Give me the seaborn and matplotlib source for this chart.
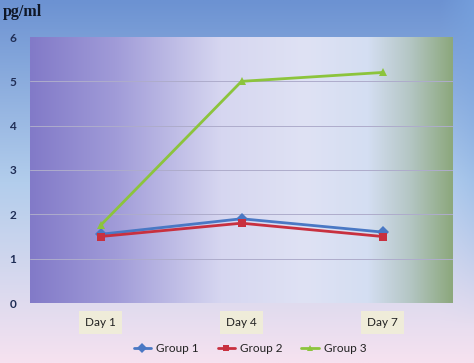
import numpy as np
import pandas as pd
import matplotlib
matplotlib.use("Agg")
import matplotlib.pyplot as plt
from matplotlib.colors import LinearSegmentedColormap
import seaborn as sns

# Data
days = ["Day 1", "Day 4", "Day 7"]
group1 = [1.55, 1.9, 1.6]
group2 = [1.5, 1.8, 1.5]
group3 = [1.75, 5.0, 5.2]
groups = ["Group 1", "Group 2", "Group 3"]
y_ticks = [0, 1, 2, 3, 4, 5, 6]

sns.set_style("white")
plt.rcParams['font.family'] = ['Lato', 'DejaVu Sans']

rows = []
for name, vals in zip(groups, [group1, group2, group3]):
    for d, v in zip(days, vals):
        rows.append({"day": d, "value": v, "group": name})
df = pd.DataFrame(rows)

fig = plt.figure(figsize=(4.74, 3.63), dpi=100)

# figure background: vertical blue -> pink gradient, bluer toward the right edge
bg = fig.add_axes([0, 0, 1, 1], zorder=-10)
h, w = 200, 200
yy, xx = np.mgrid[0:1:h * 1j, 0:1:w * 1j]
top = np.array([108, 146, 210]) / 255
mid = np.array([178, 205, 236]) / 255
bot = np.array([246, 226, 240]) / 255
t = yy[..., None]
img = np.where(t < 0.5, top + (mid - top) * (t / 0.5), mid + (bot - mid) * ((t - 0.5) / 0.5))
right_w = np.clip((xx - 0.93) / 0.07, 0, 1)[..., None] * np.clip(1 - yy * 1.1, 0, 1)[..., None]
img = img * (1 - 0.6 * right_w) + np.array([120, 165, 225]) / 255 * 0.6 * right_w
bg.imshow(img, extent=[0, 1, 0, 1], aspect="auto", origin="upper")
bg.axis("off")

ax = fig.add_axes([30 / 474, 1 - 303 / 363, 423 / 474, 266 / 363])

# plot area horizontal gradient
area_cmap = LinearSegmentedColormap.from_list("area", [
    (0.0, (130 / 255, 122 / 255, 200 / 255)),
    (0.2, (160 / 255, 155 / 255, 216 / 255)),
    (0.45, (214 / 255, 214 / 255, 240 / 255)),
    (0.65, (223 / 255, 226 / 255, 244 / 255)),
    (0.8, (212 / 255, 222 / 255, 242 / 255)),
    (0.9, (180 / 255, 198 / 255, 196 / 255)),
    (1.0, (140 / 255, 168 / 255, 125 / 255)),
])
grad = np.linspace(0, 1, 256).reshape(1, -1)
ax.imshow(grad, cmap=area_cmap, extent=[-0.5, 2.5, 0, 6], aspect="auto", zorder=0)

for yv in y_ticks[1:-1]:
    ax.axhline(yv, color="#aeaccb", linewidth=0.7, zorder=1)

palette = {"Group 1": "#4a78c4", "Group 2": "#c8303f", "Group 3": "#8cc43c"}
markers = {"Group 1": "D", "Group 2": "s", "Group 3": "^"}
df["x"] = df["day"].map({d: i for i, d in enumerate(days)})
sns.lineplot(data=df, x="x", y="value", hue="group", style="group",
             palette=palette, markers=markers, dashes=False, linewidth=2,
             markersize=6, markeredgewidth=0, ax=ax, zorder=3, legend=False)

ax.set_xlim(-0.5, 2.5)
ax.set_ylim(0, 6)
ax.set_xticks(range(len(days)))
ax.set_xticklabels(days)
ax.set_yticks(y_ticks)
ax.set_xlabel("")
ax.set_ylabel("")
for s in ax.spines.values():
    s.set_visible(False)
ax.tick_params(axis="x", length=0, pad=10, labelsize=8.5, labelcolor="#222222")
ax.tick_params(axis="y", length=0, pad=10, labelsize=8.5, labelcolor="#1f2d55")
for lbl in ax.get_yticklabels():
    lbl.set_fontweight("bold")
for lbl in ax.get_xticklabels():
    lbl.set_bbox(dict(boxstyle="square,pad=0.5", facecolor="#efecd9", edgecolor="none"))

fig.text(3 / 474, 1 - 12 / 363, "pg/ml", fontsize=11.5, fontweight="bold",
         family="Liberation Serif", color="#101828", va="center", ha="left")

handles = [plt.Line2D([], [], color=palette[g], marker=markers[g], markersize=5,
                      markeredgewidth=0, linewidth=2) for g in groups]
leg = fig.legend(handles, groups, loc="center", bbox_to_anchor=(250 / 474, 1 - 349 / 363),
                 ncol=3, frameon=False, fontsize=8.5, handlelength=1.5,
                 columnspacing=1.6, handletextpad=0.4)
for txt in leg.get_texts():
    txt.set_color("#222222")

fig.savefig("out.png", dpi=100)
